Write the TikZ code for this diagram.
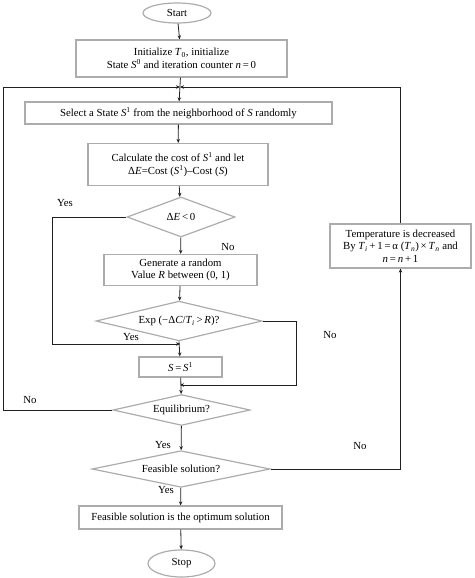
\documentclass[tikz,border=0pt]{standalone}
\usepackage{fontspec}
\setmainfont{Liberation Serif}
\usetikzlibrary{shapes.geometric,arrows.meta}
\newcommand{\vr}[1]{\textit{#1}}
\begin{document}
\begin{tikzpicture}[x=1pt,y=-1pt,
  font=\fontsize{10.8}{12.6}\selectfont,
  box/.style={draw=gray!65,line width=1.2pt,fill=white,align=center,inner sep=1pt},
  term/.style={ellipse,draw=gray!65,line width=1.2pt,inner sep=0pt},
  dec/.style={diamond,draw=gray!65,line width=1.2pt,inner sep=0pt,aspect=2.7},
  flow/.style={draw=gray!25!black,line width=0.8pt},
  arr/.style={flow,-{Stealth[length=4pt,width=3.5pt]}},
  lbl/.style={inner sep=0pt}]
\useasboundingbox (0,0) rectangle (474,578);

% terminals, process boxes and decisions
\node[term,minimum width=68pt,minimum height=20pt] (start) at (177,13) {Start};
\node[box,minimum width=211pt,minimum height=37pt] (init) at (181.5,58.5)
  {Initialize \vr{T}\textsubscript{0}, initialize\\State \vr{S}\textsuperscript{0} and iteration counter \vr{n}\,=\,0};
\node[box,minimum width=307pt,minimum height=22pt] (select) at (178.5,113)
  {Select a State \vr{S}\textsuperscript{1} from the neighborhood of \vr{S} randomly};
\node[box,minimum width=180pt,minimum height=42pt] (calc) at (178,164.5)
  {Calculate the cost of \vr{S}\textsuperscript{1} and let\\Δ\vr{E}=Cost (\vr{S}\textsuperscript{1})–Cost (\vr{S})};
\node[dec,minimum width=108pt,minimum height=40pt] (dE) at (181,217) {Δ\vr{E}\,<\,0};
\node[box,minimum width=153pt,minimum height=31pt] (gen) at (180.5,270)
  {Generate a random\\Value \vr{R} between (0, 1)};
\node[dec,minimum width=166pt,minimum height=32pt] (exp) at (179,321)
  {Exp (−Δ\vr{C}/\vr{T}\textsubscript{\vr{i}}\,>\,\vr{R})?};
\node[box,minimum width=83pt,minimum height=20pt] (ss) at (180.5,367)
  {\vr{S}\,=\,\vr{S}\textsuperscript{1}};
\node[dec,minimum width=137pt,minimum height=26pt] (eq) at (181.5,410) {Equilibrium?};
\node[dec,minimum width=178pt,minimum height=28pt] (feas) at (181,469) {Feasible solution?};
\node[box,minimum width=203pt,minimum height=23pt] (opt) at (180.5,517.5)
  {Feasible solution is the optimum solution};
\node[term,minimum width=67pt,minimum height=27pt] (stop) at (181.5,563.5) {Stop};
\node[box,minimum width=141pt,minimum height=44pt] (temp) at (400.5,246)
  {Temperature is decreased\\By \vr{T}\textsubscript{\vr{i}}\,+\,1\,=\,α (\vr{T}\textsubscript{\vr{n}})\,×\,\vr{T}\textsubscript{\vr{n}} and\\\vr{n}\,=\,\vr{n}\,+\,1};

% junction points where branches meet
\coordinate (jtop) at (180,87);
\coordinate (jyes) at (180,344);
\coordinate (jno) at (180,385);

% main flow
\draw[arr] (start) -- (init);
\draw[arr] (init) -- (select);
\draw[arr] (select) -- (calc);
\draw[arr] (calc) -- (dE);
\draw[arr] (dE) -- (gen);
\draw[arr] (gen) -- (exp);
\draw[arr] (exp.south) -- (ss);
\draw[arr] (ss) -- (eq);
\draw[arr] (eq) -- (feas);
\draw[arr] (feas) -- (opt);
\draw[arr] (opt) -- (stop);

% branches
\draw[arr] (dE.west) -| (52,344) -- (jyes);
\draw[arr] (exp.east) -| (296,385) -- (jno);
\draw[arr] (eq.west) -| (3,87) -- (jtop);
\draw[arr] (feas.east) -| (temp.south);
\draw[arr] (temp.north) |- (jtop);

% branch labels
\node[lbl] (l1) at (65,203) {Yes};
\node[lbl] (l2) at (228,247) {No};
\node[lbl] (l3) at (131,337) {Yes};
\node[lbl] (l4) at (330,335) {No};
\node[lbl] (l5) at (30,400) {No};
\node[lbl] (l6) at (163,445) {Yes};
\node[lbl] (l7) at (360,446) {No};
\node[lbl] (l8) at (166,490) {Yes};
\end{tikzpicture}
\end{document}
